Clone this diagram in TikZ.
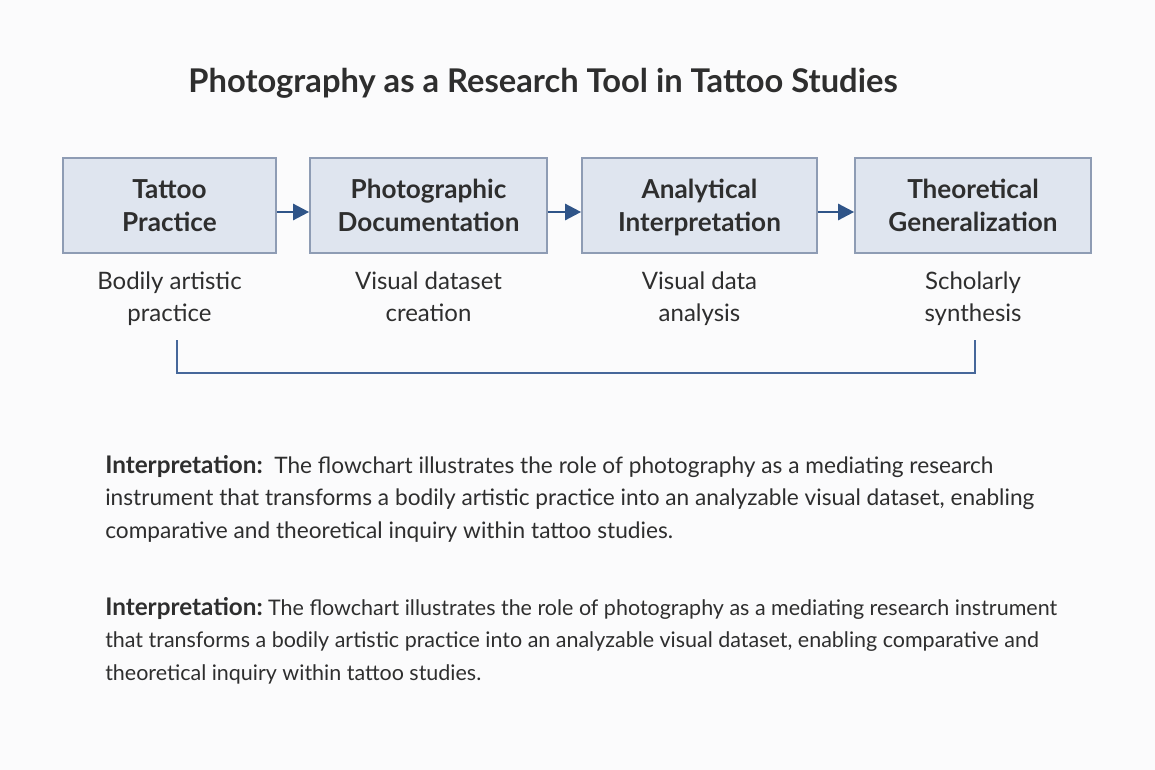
\documentclass[tikz,border=0pt]{standalone}
\usepackage{fontspec}
\setmainfont{Lato}
\usetikzlibrary{arrows.meta}
\definecolor{bgc}{HTML}{FBFBFC}
\definecolor{boxfill}{HTML}{DFE5EF}
\definecolor{boxline}{HTML}{8E9CB4}
\definecolor{arrc}{HTML}{2F5488}
\definecolor{brc}{HTML}{46679A}
\definecolor{txt}{HTML}{2E2E2E}
\tikzset{
  stagebox/.style={draw=boxline, line width=1.3pt, fill=boxfill, minimum height=71.25pt, inner sep=0pt, align=center, text=txt,
    font=\fontsize{19.6}{24.75}\selectfont\bfseries},
  sublabel/.style={align=center, text=txt, anchor=north, inner sep=0pt, font=\fontsize{18}{24}\selectfont},
  flowarrow/.style={draw=arrc, line width=2pt, -{Triangle[length=12pt,width=12pt]}},
  bracketline/.style={draw=brc, line width=1.6pt},
  paraA/.style={anchor=base west, inner sep=0pt, text=txt, font=\fontsize{17}{20}\selectfont},
  paraB/.style={anchor=base west, inner sep=0pt, text=txt, font=\fontsize{16.1}{20}\selectfont},
}
\newcommand{\leadword}{{\fontsize{18.2}{20}\selectfont\bfseries Interpretation:}}
\newcommand{\tallstrut}{\rule{0pt}{\dimexpr0.7\baselineskip+3.75pt\relax}}
\begin{document}
\begin{tikzpicture}[x=0.75pt,y=-0.75pt]
\fill[bgc] (0,0) rectangle (1155,770);
\useasboundingbox (0,0) rectangle (1155,770);
\node[anchor=base, text=txt, font=\fontsize{24.5}{28}\selectfont\bfseries] (title) at (543,93) {Photography as a Research Tool in Tattoo Studies};
\node[stagebox, minimum width=159.75pt] (b1) at (169.5,205.5) {\tallstrut Tattoo\strut\\Practice\strut};
\node[stagebox, minimum width=177.75pt] (b2) at (428.5,205.5) {\tallstrut Photographic\strut\\Documentation\strut};
\node[stagebox, minimum width=176.25pt] (b3) at (699.5,205.5) {\tallstrut Analytical\strut\\Interpretation\strut};
\node[stagebox, minimum width=177pt] (b4) at (973,205.5) {\tallstrut Theoretical\strut\\Generalization\strut};
\coordinate (ay) at (0,212);
\draw[flowarrow] (b1.east|-ay) -- (b2.west|-ay);
\draw[flowarrow] (b2.east|-ay) -- (b3.west|-ay);
\draw[flowarrow] (b3.east|-ay) -- (b4.west|-ay);
\node[sublabel] (l1) at (169.5,267) {Bodily artistic\strut\\practice\strut};
\node[sublabel] (l2) at (428.5,267) {Visual dataset\strut\\creation\strut};
\node[sublabel] (l3) at (699.5,267) {Visual data\strut\\analysis\strut};
\node[sublabel] (l4) at (973,267) {Scholarly\strut\\synthesis\strut};
\coordinate (bl) at (177,340);
\coordinate (br) at (975,340);
\draw[bracketline] (bl) -- ++(0,33) -| (br);
\node[paraA] (p1a) at (105,473) {\leadword\ \ The flowchart illustrates the role of photography as a mediating research};
\node[paraA] (p1b) at (105,505.5) {instrument that transforms a bodily artistic practice into an analyzable visual dataset, enabling};
\node[paraA] (p1c) at (105,538) {comparative and theoretical inquiry within tattoo studies.};
\node[paraB] (p2a) at (105,615) {\leadword\ The flowchart illustrates the role of photography as a mediating research instrument};
\node[paraB] (p2b) at (105,647.5) {that transforms a bodily artistic practice into an analyzable visual dataset, enabling comparative and};
\node[paraB] (p2c) at (105,680) {theoretical inquiry within tattoo studies.};
\end{tikzpicture}
\end{document}
